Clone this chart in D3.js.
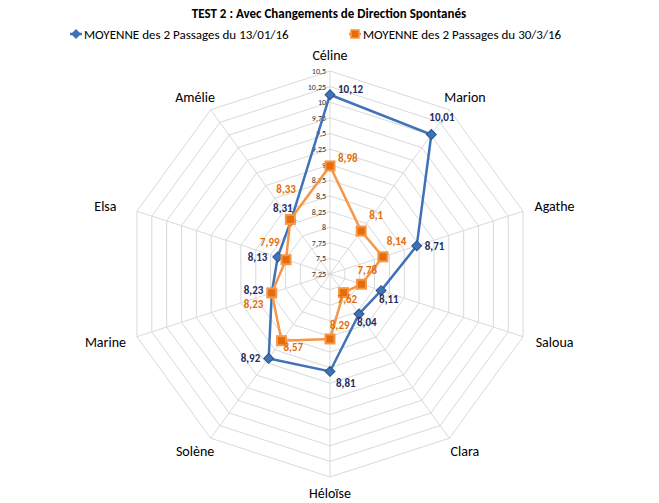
<!DOCTYPE html><html><head><meta charset="utf-8"><script src="https://cdn.jsdelivr.net/npm/d3@7"></script>
<style>body{margin:0;background:#fff}text{font-family:Calibri,Carlito,"Open Sans","Liberation Sans",sans-serif}</style></head><body>
<svg id="c" width="659" height="503"></svg>
<script>
const categories=["Céline","Marion","Agathe","Saloua","Clara","Héloïse","Solène","Marine","Elsa","Amélie"];
const serie1=[10.12,10.01,8.71,8.11,8.04,8.81,8.92,8.23,8.13,8.31];
const serie2=[8.98,8.1,8.14,7.78,7.62,8.29,8.57,8.23,7.99,8.33];
const ticks=[7.25,7.5,7.75,8,8.25,8.5,8.75,9,9.25,9.5,9.75,10,10.25,10.5];
const names=["MOYENNE des 2 Passages du 13/01/16","MOYENNE des 2 Passages du 30/3/16"];
const off1=[[8,-2],[-2,-14],[8,4],[-2,12],[-2,12],[6,16],[-28,4],[-28,1],[-30,4],[-18,-8]];
const off2=[[8,-4],[8,-12],[4,-12],[-4,-10],[-6,10],[0,-10],[2,10],[-28,15],[-26,-14],[-14,-26]];
const svg=d3.select("#c"),cx=330,cy=274;
const r=d3.scaleLinear().domain([7.25,10.5]).range([0,203]);
const ang=d3.scaleLinear().domain([0,categories.length]).range([0,2*Math.PI]);
const pt=(v,i)=>[cx+r(v)*Math.sin(ang(i)),cy-r(v)*Math.cos(ang(i))];
const g=svg.append("g");
ticks.forEach(t=>{g.append("polygon").attr("points",categories.map((c,i)=>pt(t,i).join(",")).join(" ")).attr("fill","none").attr("stroke","#d9d9d9").attr("stroke-width",1);});
categories.forEach((c,i)=>{const p=pt(10.5,i);g.append("line").attr("x1",cx).attr("y1",cy).attr("x2",p[0]).attr("y2",p[1]).attr("stroke","#d9d9d9");
const s=Math.sin(ang(i)),co=Math.cos(ang(i));
const q=[cx+(219+Math.abs(s)*18)*s,cy-219*co];
g.append("text").attr("x",q[0]).attr("y",q[1]+5).attr("text-anchor","middle").attr("font-size",14).attr("fill","#000").text(c);});
ticks.forEach(t=>g.append("text").attr("x",cx-4).attr("y",cy-r(t)+3).attr("text-anchor","end").attr("font-size",8).attr("fill","#333").text(String(t).replace(".",",")));
const line=d3.line().curve(d3.curveLinearClosed);
function draw(vals,col,lab,offs,shape){
 g.append("path").attr("d",line(vals.map(pt))).attr("fill","none").attr("stroke",col).attr("stroke-width",2.5);
 vals.forEach((v,i)=>{const p=pt(v,i);
  if(shape==="d")g.append("rect").attr("x",p[0]-3.5).attr("y",p[1]-3.5).attr("width",7).attr("height",7).attr("transform",`rotate(45,${p[0]},${p[1]})`).attr("fill",col).attr("stroke","#2a5490");
  else g.append("rect").attr("x",p[0]-4.5).attr("y",p[1]-4.5).attr("width",9).attr("height",9).attr("fill","#e46c0a").attr("stroke",col).attr("stroke-width",2);
  g.append("text").attr("x",p[0]+offs[i][0]).attr("y",p[1]+offs[i][1]).attr("font-size",11).attr("font-weight","bold").attr("fill",lab).text(String(v).replace(".",","));});
}
draw(serie1,"#3f72b6","#1f2a5c",off1,"d");
draw(serie2,"#f79646","#e46c0a",off2,"s");
svg.append("text").attr("x",329).attr("y",18).attr("text-anchor","middle").attr("font-size",13).attr("font-weight","bold").text("TEST 2 : Avec Changements de Direction Spontanés");
const lg=svg.append("g");
[[76,names[0],"d"],[355,names[1],"s"]].forEach(([x,n,s])=>{
 lg.append("line").attr("x1",x-6).attr("x2",x+6).attr("y1",34).attr("y2",34).attr("stroke",s==="d"?"#3f72b6":"#f79646").attr("stroke-width",2.5);
 if(s==="d")lg.append("rect").attr("x",x-3.5).attr("y",30.5).attr("width",7).attr("height",7).attr("transform",`rotate(45,${x},34)`).attr("fill","#3f72b6");
 else lg.append("rect").attr("x",x-4).attr("y",30).attr("width",8).attr("height",8).attr("fill","#e46c0a").attr("stroke","#f79646").attr("stroke-width",1.5);
 lg.append("text").attr("x",x+8).attr("y",39).attr("font-size",13).text(n);});
</script></body></html>
